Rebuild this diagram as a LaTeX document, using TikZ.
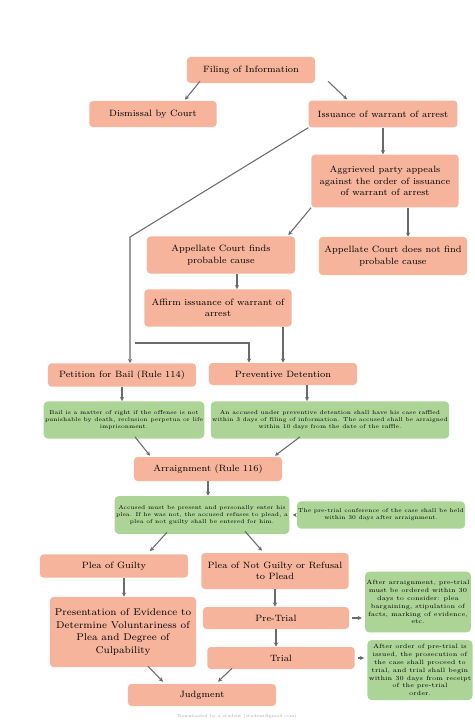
\documentclass[tikz,border=0pt]{standalone}
\usepackage{tikz}
\usetikzlibrary{arrows.meta,calc}

\definecolor{stagefill}{RGB}{245,180,155}
\definecolor{notefill}{RGB}{172,212,150}
\definecolor{linkgray}{RGB}{105,105,110}

\begin{document}
\begin{tikzpicture}[x=0.025cm,y=-0.025cm,
    stage/.style={fill=stagefill,rounded corners=2.5pt,align=center,inner sep=1pt,
                  font=\fontsize{6.5}{8}\selectfont},
    note/.style={fill=notefill,rounded corners=3pt,align=center,inner sep=1pt,
                 font=\fontsize{4}{5}\selectfont},
    sidenote/.style={note,font=\fontsize{4.4}{5.6}\selectfont},
    link/.style={draw=linkgray,line width=0.75pt,-{Stealth[length=3pt,width=3pt]}}]
    % \clip (0,0) rectangle (474,724);
    \useasboundingbox (0,0) rectangle (474,724);

    % Drawing boxes of the upper part
    \node [stage,minimum width=3.2cm,minimum height=0.65cm] (filing) at (251,70) {Filing of Information};%
    \node [stage,minimum width=3.18cm,minimum height=0.65cm] (dismiss) at (153,114) {Dismissal by Court};%
    \node [stage,minimum width=3.72cm,minimum height=0.67cm] (issuance) at (383,114) {Issuance of warrant of arrest};%
    \node [stage,minimum width=3.68cm,minimum height=1.32cm] (appeal) at (385,181) {Aggrieved party appeals\\against the order of issuance\\of warrant of arrest};%
    \node [stage,minimum width=3.7cm,minimum height=0.93cm] (finds) at (221,255) {Appellate Court finds\\probable cause};%
    \node [stage,minimum width=3.7cm,minimum height=0.95cm] (notfind) at (393,256) {Appellate Court does not find\\probable cause};%
    \node [stage,minimum width=3.68cm,minimum height=0.93cm] (affirm) at (218,308) {Affirm issuance of warrant of\\arrest};%

    % Drawing bail and detention
    \node [stage,minimum width=3.7cm,minimum height=0.58cm] (bail) at (122,375) {Petition for Bail (Rule 114)};%
    \node [stage,minimum width=3.7cm,minimum height=0.55cm] (detention) at (283,374) {Preventive Detention};%
    \node [note,minimum width=3.95cm,minimum height=0.93cm] (bailnote) at (124,420) {Bail is a matter of right if the offense is not\\punishable by death, reclusion perpetua or life\\imprisonment.};%
    \node [note,minimum width=5.33cm,minimum height=0.93cm] (detnote) at (330,420) {An accused under preventive detention shall have his case raffled\\within 3 days of filing of information. The accused shall be arraigned\\within 10 days from the date of the raffle.};%

    % Drawing arraignment
    \node [stage,minimum width=3.7cm,minimum height=0.6cm] (arraign) at (208,469) {Arraignment (Rule 116)};%
    \node [note,minimum width=3.95cm,minimum height=0.95cm] (arrnote) at (202,515) {Accused must be present and personally enter his\\plea. If he was not, the accused refuses to plead, a\\plea of not guilty shall be entered for him.};%
    \node [note,minimum width=3.98cm,minimum height=0.68cm] (ptnote) at (381,515) {The pre-trial conference of the case shall be held\\within 30 days after arraignment.};%

    % Drawing pleas, trial and judgment
    \node [stage,minimum width=3.7cm,minimum height=0.58cm] (guilty) at (114,566) {Plea of Guilty};%
    \node [stage,minimum width=3.68cm,minimum height=0.9cm] (notguilty) at (275,571) {Plea of Not Guilty or Refusal\\to Plead};%
    \node [stage,minimum width=3.65cm,minimum height=1.75cm,font=\fontsize{7}{9}\selectfont] (evidence) at (123,632) {Presentation of Evidence to\\Determine Voluntariness of\\Plea and Degree of\\Culpability};%
    \node [stage,minimum width=3.65cm,minimum height=0.55cm] (pretrial) at (276,618) {Pre-Trial};%
    \node [stage,minimum width=3.68cm,minimum height=0.55cm] (trial) at (281,658) {Trial};%
    \node [stage,minimum width=3.7cm,minimum height=0.55cm] (judgment) at (202,695) {Judgment};%
    \node [sidenote,minimum width=2.5cm,minimum height=1.52cm] (pretnote) at (418,602) {After arraignment, pre-trial\\must be ordered within 30\\days to consider: plea\\bargaining, stipulation of\\facts, marking of evidence,\\etc.};%
    \node [sidenote,minimum width=2.48cm,minimum height=1.5cm] (trialnote) at (420,670) {After order of pre-trial is\\issued, the prosecution of\\the case shall proceed to\\trial, and trial shall begin\\within 30 days from receipt\\of the pre-trial\\order.};%

    % Marking the footer
    \node [font=\fontsize{3}{4}\selectfont,text=black!35] (footer) at (237,716) {Downloaded by a student (student@gmail.com)};%

    % Marking points where connectors leave a box
    \coordinate (bend) at (130,237);%
    \coordinate (split) at (135,343);%
    \coordinate (appealout) at ($(appeal.south)+(23,0)$);%
    \coordinate (findsout) at ($(finds.south)+(16,0)$);%
    \coordinate (detout) at ($(detention.south)+(24,0)$);%
    \coordinate (guiltyout) at ($(guilty.south)+(10,0)$);%

    % Drawing connectors of the upper part
    \draw [link] ($(filing.south)+(-51,-2)$) -- ($(dismiss.north)+(32,-1)$);%
    \draw [link] ($(filing.south)+(77,-2)$) -- ($(issuance.north)+(-36,-1)$);%
    \draw [link] (issuance.south west) -- (bend) -- (bend |- bail.north);%
    \draw [link] (split) -| ($(detention.north)+(-34,0)$);%
    \draw [link] (issuance.south) -- (issuance.south |- appeal.north);%
    \draw [link] (appeal.south west) -- ($(finds.north east)+(-7,-1)$);%
    \draw [link] (appealout) -- (appealout |- notfind.north);%
    \draw [link] (findsout) -- (findsout |- affirm.north);%
    \draw [link] (detention.north |- affirm.south) -- (detention.north);%

    % Drawing connectors of the middle part
    \draw [link] (bail.south) -- (bail.south |- bailnote.north);%
    \draw [link] (detout) -- (detout |- detnote.north);%
    \draw [link] ($(bailnote.south)+(11,-2)$) -- ($(arraign.north)+(-58,-1)$);%
    \draw [link] ($(detnote.south)+(-30,-2)$) -- ($(arraign.north)+(67,-1)$);%
    \draw [link] (arraign.south) -- (arraign.south |- arrnote.north);%
    \draw [link] ($(arrnote.east)+(5,0)$) -- ($(ptnote.west)+(-4,0)$);%
    \draw [link] ($(arrnote.south)+(-35,-2)$) -- ($(guilty.north)+(36,-3)$);%
    \draw [link] ($(arrnote.south)+(43,-3)$) -- ($(notguilty.north)+(-13,-2)$);%

    % Drawing connectors of the lower part
    \draw [link] (guiltyout) -- (guiltyout |- evidence.north);%
    \draw [link] (notguilty.south) -- (notguilty.south |- pretrial.north);%
    \draw [link] (pretrial.south) -- (pretrial.south |- trial.north);%
    \draw [link] ($(pretrial.east)+(3,0)$) -- ($(pretnote.west |- pretrial.east)+(-3,0)$);%
    \draw [link] ($(trial.east)+(3,0)$) -- ($(trialnote.west |- trial.east)+(-3,0)$);%
    \draw [link] ($(evidence.south)+(25,-1)$) -- ($(judgment.north)+(-39,-2)$);%
    \draw [link] ($(trial.south)+(-49,-1)$) -- ($(judgment.north)+(16,-2)$);%
\end{tikzpicture}
\end{document}
